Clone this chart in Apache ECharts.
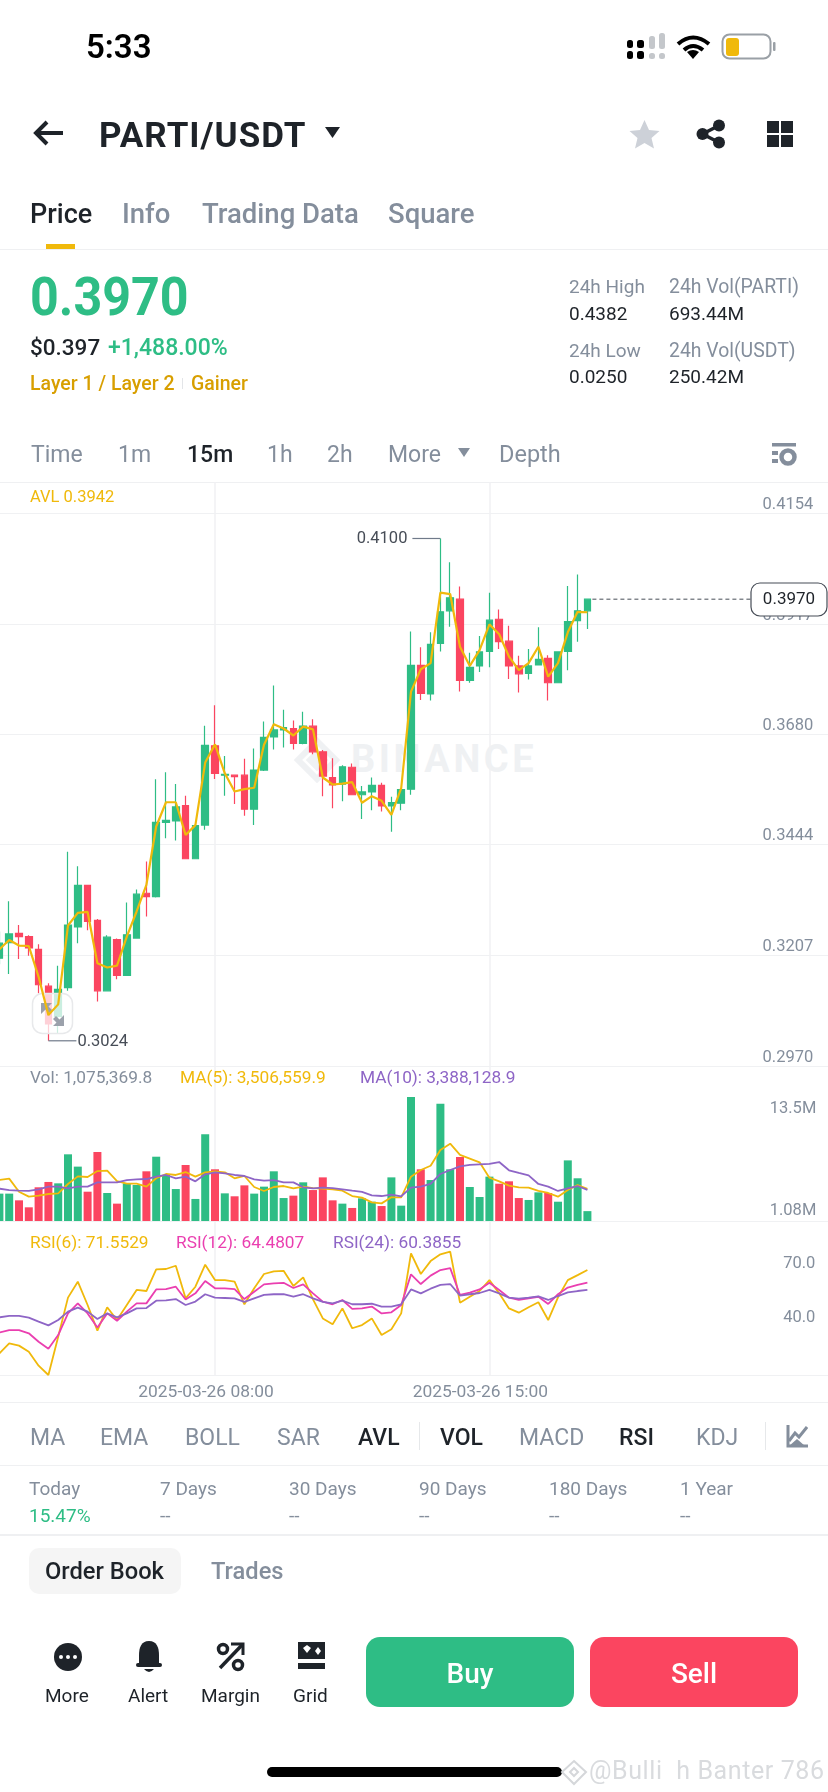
<!DOCTYPE html>
<html>
<head>
<meta charset="utf-8">
<title>PARTI/USDT</title>
<script src="https://cdn.jsdelivr.net/npm/echarts@6/dist/echarts.min.js"></script>
<style>
html, body { margin: 0; padding: 0; background: #fff; }
body { position: relative; width: 828px; height: 1792px; overflow: hidden; font-family: Roboto, sans-serif; color: #1e2329; }
#chart { position: absolute; left: 0; top: 0; width: 828px; height: 1792px; z-index: 1; }
.t { position: absolute; white-space: pre; line-height: 1; z-index: 2; }
.g { color: #848e9c; }
.b { font-weight: 500; color: #1e2329; }
.line { position: absolute; left: 0; width: 828px; height: 1px; background: #eff0f2; }
svg { position: absolute; z-index: 2; }
</style>
</head>
<body>
<!-- status bar -->
<div class="t" style="left:86px;top:30px;font-size:33px;font-weight:600;color:#000">5:33</div>
<svg style="left:625px;top:32px" width="42" height="30" fill="#000">
  <rect x="2" y="8" width="6" height="8" rx="2.5"/><rect x="2" y="19" width="6" height="8" rx="2.5"/>
  <rect x="12" y="8" width="7" height="8" rx="2.5"/><rect x="12" y="19" width="7" height="8" rx="2.5"/>
  <g fill="#c4c7cb"><rect x="24" y="4" width="6" height="13" rx="2.5"/><rect x="24" y="21" width="6" height="6" rx="2.5"/>
  <rect x="34" y="1" width="6" height="16" rx="2.5"/><rect x="34" y="21" width="6" height="6" rx="2.5"/></g>
</svg>
<svg style="left:676px;top:34px" width="36" height="27" fill="none" stroke="#000" stroke-width="4">
  <path d="M2 10 Q17 -3 33 10"/><path d="M8 16 Q17 8 27 16"/><path d="M17 25 L11 18 Q17 14 23 18 Z" fill="#000" stroke="none"/>
</svg>
<svg style="left:721px;top:33px" width="56" height="28">
  <rect x="1.5" y="1.5" width="48" height="24" rx="7" fill="#fff" stroke="#9aa0a6" stroke-width="2"/>
  <rect x="5" y="5" width="13" height="18" rx="3" fill="#f0b90b"/>
  <rect x="52" y="9" width="2.5" height="9" rx="1" fill="#9aa0a6"/>
</svg>

<!-- title row -->
<svg style="left:33px;top:120px" width="32" height="26" fill="none" stroke="#1e2329" stroke-width="4">
  <path d="M30 13 H3"/><path d="M14 2 L3 13 L14 24"/>
</svg>
<div class="t" style="left:99px;top:118px;font-size:35px;font-weight:700;letter-spacing:1px">PARTI/USDT</div>
<svg style="left:324px;top:126px" width="17" height="13" fill="#1e2329"><path d="M1 1 H16 L8.5 12 Z"/></svg>
<svg style="left:629px;top:119px" width="31" height="30" fill="#cdd1d8"><path d="M15.5 1 L20 11 L30.5 12 L22.5 19 L25 29.5 L15.5 24 L6 29.5 L8.5 19 L0.5 12 L11 11 Z"/></svg>
<svg style="left:696px;top:119px" width="30" height="30" fill="#1e2329">
  <circle cx="6.5" cy="15" r="6"/><circle cx="23" cy="6.5" r="6"/><circle cx="23" cy="23.5" r="6"/>
  <path d="M6.5 15 L23 6.5 M6.5 15 L23 23.5" stroke="#1e2329" stroke-width="3.5"/>
</svg>
<svg style="left:767px;top:121px" width="26" height="26" fill="#1e2329">
  <rect width="12" height="12"/><rect x="14" width="12" height="12"/><rect y="14" width="12" height="12"/><rect x="14" y="14" width="12" height="12"/>
</svg>

<!-- tabs -->
<div class="t" style="left:30px;top:201px;font-size:27px;font-weight:500">Price</div>
<div class="t g" style="left:122px;top:200px;font-size:27.5px;font-weight:500">Info</div>
<div class="t g" style="left:202px;top:200px;font-size:27.5px;font-weight:500">Trading Data</div>
<div class="t g" style="left:388px;top:200px;font-size:27.5px;font-weight:500">Square</div>
<div style="position:absolute;left:46px;top:244px;width:29px;height:5px;background:#f0b90b"></div>
<div class="line" style="top:249px"></div>

<!-- price block -->
<div class="t" style="left:30px;top:270px;font-size:54px;font-weight:700;color:#2ebd85;transform:scaleX(.93);transform-origin:left">0.3970</div>
<div class="t" style="left:30px;top:336px;font-size:22.5px;font-weight:500">$0.397</div>
<div class="t" style="left:108px;top:336px;font-size:23px;font-weight:500;color:#2ebd85">+1,488.00%</div>
<div class="t" style="left:30px;top:374px;font-size:19.5px;font-weight:500;color:#d89f00">Layer 1 / Layer 2</div>
<div style="position:absolute;left:182px;top:378px;width:1px;height:11px;background:#e3e5e8"></div>
<div class="t" style="left:191px;top:374px;font-size:19.5px;font-weight:500;color:#d89f00">Gainer</div>
<div class="t g" style="left:569px;top:277px;font-size:19px">24h High</div>
<div class="t g" style="left:669px;top:277px;font-size:19.4px">24h Vol(PARTI)</div>
<div class="t" style="left:569px;top:304px;font-size:19px">0.4382</div>
<div class="t" style="left:669px;top:304px;font-size:19px">693.44M</div>
<div class="t g" style="left:569px;top:341px;font-size:19px">24h Low</div>
<div class="t g" style="left:669px;top:341px;font-size:19.4px">24h Vol(USDT)</div>
<div class="t" style="left:569px;top:367px;font-size:19px">0.0250</div>
<div class="t" style="left:669px;top:367px;font-size:19px">250.42M</div>

<!-- interval row -->
<div class="t g" style="left:31px;top:443px;font-size:23px">Time</div>
<div class="t g" style="left:118px;top:443px;font-size:23px">1m</div>
<div class="t b" style="left:187px;top:443px;font-size:23px">15m</div>
<div class="t g" style="left:267px;top:443px;font-size:23px">1h</div>
<div class="t g" style="left:327px;top:443px;font-size:23px">2h</div>
<div class="t g" style="left:388px;top:443px;font-size:23px">More</div>
<svg style="left:457px;top:447px" width="14" height="11" fill="#848e9c"><path d="M1 1 H13 L7 10 Z"/></svg>
<div class="t g" style="left:499px;top:443px;font-size:23.5px">Depth</div>
<svg style="left:771px;top:442px" width="26" height="24" fill="#848e9c">
  <rect x="1" y="1" width="24" height="3.5"/><rect x="1" y="9" width="6" height="4"/><rect x="1" y="17" width="6" height="4"/>
  <circle cx="17" cy="15" r="6.5" fill="none" stroke="#848e9c" stroke-width="4.5"/>
</svg>
<div class="line" style="top:482px"></div>

<!-- indicator captions -->
<div class="t" style="left:30px;top:489px;font-size:16.5px;color:#f0b90b">AVL 0.3942</div>
<div class="t g" style="left:30px;top:1069px;font-size:17.3px">Vol: 1,075,369.8</div>
<div class="t" style="left:180px;top:1069px;font-size:17.3px;color:#f0b90b">MA(5): 3,506,559.9</div>
<div class="t" style="left:360px;top:1069px;font-size:17.3px;color:#8e65c6">MA(10): 3,388,128.9</div>
<div class="t" style="left:30px;top:1234px;font-size:17.3px;color:#f0b90b">RSI(6): 71.5529</div>
<div class="t" style="left:176px;top:1234px;font-size:17.3px;color:#ea3fb0">RSI(12): 64.4807</div>
<div class="t" style="left:333px;top:1234px;font-size:17.3px;color:#8e65c6">RSI(24): 60.3855</div>

<!-- watermark behind the candles -->
<svg style="left:292px;top:735px;z-index:0" width="50" height="50" fill="none" stroke="#eff1f3" stroke-width="6">
  <path d="M25 6 L44 25 L25 44 L6 25 Z"/><path d="M25 18 L32 25 L25 32 L18 25 Z" fill="#eff1f3"/>
</svg>
<div class="t" style="left:351px;top:740px;font-size:38px;font-weight:700;color:#eff1f3;z-index:0;letter-spacing:3.6px">BINANCE</div>

<!-- indicator switches -->
<div class="line" style="top:1402px"></div>
<div class="t g" style="left:30px;top:1426px;font-size:23px">MA</div>
<div class="t g" style="left:100px;top:1426px;font-size:23px">EMA</div>
<div class="t g" style="left:185px;top:1426px;font-size:23px">BOLL</div>
<div class="t g" style="left:277px;top:1426px;font-size:23px">SAR</div>
<div class="t b" style="left:358px;top:1426px;font-size:23px">AVL</div>
<div style="position:absolute;left:419px;top:1422px;width:1px;height:28px;background:#e6e8ea"></div>
<div class="t b" style="left:440px;top:1426px;font-size:23px">VOL</div>
<div class="t g" style="left:519px;top:1426px;font-size:23px">MACD</div>
<div class="t b" style="left:619px;top:1426px;font-size:23px">RSI</div>
<div class="t g" style="left:696px;top:1426px;font-size:23px">KDJ</div>
<div style="position:absolute;left:765px;top:1422px;width:1px;height:28px;background:#e6e8ea"></div>
<svg style="left:786px;top:1425px" width="22" height="23" fill="none" stroke="#848e9c" stroke-width="3">
  <path d="M2 0 V21 H22"/><path d="M3 16 L9 8 L13 12 L21 2"/><path d="M3 21 L11 14 L19 21 Z" fill="#848e9c" stroke="none"/>
</svg>
<div class="line" style="top:1465px"></div>

<!-- performance row -->
<div class="t g" style="left:29px;top:1479px;font-size:19px">Today</div>
<div class="t g" style="left:160px;top:1479px;font-size:19px">7 Days</div>
<div class="t g" style="left:289px;top:1479px;font-size:19px">30 Days</div>
<div class="t g" style="left:419px;top:1479px;font-size:19px">90 Days</div>
<div class="t g" style="left:549px;top:1479px;font-size:19px">180 Days</div>
<div class="t g" style="left:680px;top:1479px;font-size:19px">1 Year</div>
<div class="t" style="left:29px;top:1506px;font-size:19px;color:#2ebd85">15.47%</div>
<div class="t g" style="left:160px;top:1506px;font-size:19px">--</div>
<div class="t g" style="left:289px;top:1506px;font-size:19px">--</div>
<div class="t g" style="left:419px;top:1506px;font-size:19px">--</div>
<div class="t g" style="left:549px;top:1506px;font-size:19px">--</div>
<div class="t g" style="left:680px;top:1506px;font-size:19px">--</div>
<div class="line" style="top:1534px;height:2px"></div>

<!-- order book tabs -->
<div style="position:absolute;left:29px;top:1548px;width:152px;height:46px;border-radius:10px;background:#f5f5f5"></div>
<div class="t b" style="left:45px;top:1560px;font-size:23.7px">Order Book</div>
<div class="t g" style="left:211px;top:1560px;font-size:23.7px;font-weight:500">Trades</div>

<!-- bottom bar -->
<svg style="left:54px;top:1642px" width="28" height="30">
  <circle cx="14" cy="15" r="14" fill="#1e2329"/>
  <g fill="#fff"><circle cx="7" cy="15" r="2"/><circle cx="14" cy="15" r="2"/><circle cx="21" cy="15" r="2"/></g>
</svg>
<svg style="left:135px;top:1640px" width="28" height="34" fill="#1e2329">
  <path d="M14 1 C6 1 4 8 4 15 V24 H24 V15 C24 8 22 1 14 1 Z"/><rect x="1" y="23" width="26" height="4" rx="2"/><path d="M9 29 H19 Q14 35 9 29 Z"/>
</svg>
<svg style="left:216px;top:1642px" width="29" height="30" fill="none" stroke="#1e2329" stroke-width="3.5">
  <circle cx="7" cy="7" r="4.5"/><circle cx="22" cy="23" r="4.5"/><path d="M4 26 L26 3"/><path d="M15 2 H27 V13" stroke-width="3"/>
</svg>
<svg style="left:298px;top:1642px" width="27" height="30" fill="#1e2329">
  <path d="M0 0 H27 V17 H0 Z M5 6 L9 11 L13 6 L9 3 Z M17 9 L20 13 L23 9 L20 5 Z" fill-rule="evenodd"/><rect y="21" width="27" height="6"/>
</svg>
<div class="t" style="left:45px;top:1686px;font-size:19px">More</div>
<div class="t" style="left:128px;top:1686px;font-size:19px">Alert</div>
<div class="t" style="left:201px;top:1686px;font-size:19px">Margin</div>
<div class="t" style="left:293px;top:1686px;font-size:19px">Grid</div>
<div style="position:absolute;left:366px;top:1637px;width:208px;height:70px;border-radius:14px;background:#2ebd85"></div>
<div style="position:absolute;left:590px;top:1637px;width:208px;height:70px;border-radius:14px;background:#fb4560"></div>
<div class="t" style="left:366px;width:208px;top:1660px;font-size:28px;font-weight:500;color:#fff;text-align:center">Buy</div>
<div class="t" style="left:590px;width:208px;top:1660px;font-size:28px;font-weight:500;color:#fff;text-align:center">Sell</div>
<div style="position:absolute;left:267px;top:1767px;width:295px;height:10px;border-radius:5px;background:#000"></div>
<svg style="left:560px;top:1758px" width="28" height="28" fill="none" stroke="#d5d7da" stroke-width="2">
  <path d="M14 3 L26 14 L14 26 L2 14 Z"/><path d="M14 10 L18 14 L14 18 L10 14 Z"/>
</svg>
<div class="t" style="left:589px;top:1758px;font-size:25px;color:#d9dbde;letter-spacing:.6px">@Bulli  h Banter 786</div>

<div id="chart"></div>

<script>
const GREEN = '#2ebd85', RED = '#fb4560', YELLOW = '#f0b90b', PINK = '#ea3fb0', PURPLE = '#8e65c6';

const times = [
    '02:30','02:45','03:00','03:15','03:30','03:45','04:00','04:15','04:30','04:45',
    '05:00','05:15','05:30','05:45','06:00','06:15','06:30','06:45','07:00','07:15',
    '07:30','07:45','08:00','08:15','08:30','08:45','09:00','09:15','09:30','09:45',
    '10:00','10:15','10:30','10:45','11:00','11:15','11:30','11:45','12:00','12:15',
    '12:30','12:45','13:00','13:15','13:30','13:45','14:00','14:15','14:30','14:45',
    '15:00','15:15','15:30','15:45','16:00','16:15','16:30','16:45','17:00','17:15',
    '17:30'
];
const opens = [
    .3201,.3234,.3254,.3247,.3220,.3141,.3076,.3138,.3268,.3357,
    .3282,.3131,.3241,.3164,.3244,.3340,.3333,.3492,.3495,.3528,
    .3414,.3486,.3656,.3593,.3593,.3593,.3520,.3604,.3675,.3690,
    .3693,.3661,.3698,.3643,.3588,.3574,.3610,.3551,.3557,.3571,
    .3527,.3533,.3563,.3828,.3767,.3875,.3945,.3970,.3796,.3827,
    .3858,.3927,.3880,.3827,.3811,.3829,.3843,.3791,.3858,.3924,
    .3945
];
const closes = [
    .3233,.3253,.3247,.3223,.3144,.3060,.3134,.3272,.3357,.3280,
    .3131,.3246,.3164,.3251,.3338,.3333,.3492,.3496,.3525,.3414,
    .3485,.3657,.3597,.3595,.3590,.3520,.3604,.3674,.3690,.3695,
    .3661,.3698,.3643,.3591,.3572,.3611,.3551,.3557,.3571,.3527,
    .3534,.3562,.3828,.3768,.3873,.3943,.3973,.3796,.3824,.3857,
    .3925,.3879,.3827,.3810,.3827,.3841,.3791,.3857,.3922,.3945,
    .3970
];
const highs = [
    .3258,.3323,.3272,.3250,.3231,.3147,.3185,.3429,.3398,.3357,
    .3285,.3250,.3243,.3320,.3348,.3408,.3584,.3599,.3574,.3549,
    .3485,.3699,.3743,.3634,.3594,.3628,.3650,.3708,.3785,.3733,
    .3710,.3729,.3713,.3647,.3629,.3614,.3618,.3570,.3588,.3577,
    .3547,.3562,.3901,.3867,.3899,.4100,.4049,.3997,.3855,.3891,
    .3984,.3948,.3913,.3849,.3863,.3910,.3850,.3857,.3998,.4023,
    .3970
];
const lows = [
    .3188,.3167,.3199,.3206,.3126,.3024,.3040,.3131,.3233,.3261,
    .3108,.3131,.3156,.3164,.3244,.3290,.3331,.3458,.3453,.3414,
    .3414,.3476,.3585,.3549,.3531,.3506,.3486,.3602,.3648,.3652,
    .3648,.3659,.3638,.3548,.3522,.3537,.3551,.3499,.3518,.3515,
    .3472,.3518,.3551,.3754,.3753,.3858,.3911,.3772,.3791,.3814,
    .3824,.3863,.3799,.3770,.3798,.3828,.3753,.3791,.3818,.3879,
    .3906
];
const avl = [
    .3220,.3240,.3228,.3227,.3161,.3079,.3102,.3271,.3298,.3300,
    .3190,.3181,.3185,.3247,.3301,.3358,.3483,.3535,.3535,.3465,
    .3486,.3620,.3659,.3597,.3558,.3563,.3566,.3658,.3702,.3693,
    .3678,.3697,.3691,.3588,.3573,.3575,.3578,.3534,.3548,.3538,
    .3508,.3565,.3772,.3820,.3833,.3984,.3981,.3868,.3827,.3861,
    .3916,.3895,.3847,.3818,.3833,.3868,.3804,.3833,.3899,.3943,
    .3942
];
// volumes in millions
const volumes = [
    2.98,2.98,2.25,1.49,3.67,4.25,4.10,7.26,5.92,3.19,
    7.51,3.05,1.89,4.10,3.92,5.41,7.00,5.01,3.48,6.10,
    2.40,9.44,5.63,3.01,2.69,3.88,2.98,3.74,5.41,2.50,
    2.76,4.21,3.37,4.75,2.25,1.89,1.42,2.47,2.10,1.63,
    4.75,1.67,13.50,5.63,4.46,12.77,5.63,6.97,3.70,2.61,
    4.83,4.06,4.32,2.50,2.29,3.12,3.05,2.10,6.60,4.65,
    1.075
];
const ma5 = [
    4.46,4.61,3.19,2.65,2.76,2.94,3.01,4.03,4.86,4.79,
    5.44,5.48,4.35,4.06,4.06,3.74,4.65,5.12,5.01,5.33,
    4.83,5.30,5.41,5.30,4.65,4.90,3.70,3.27,3.70,3.81,
    3.56,3.74,3.59,3.52,3.45,3.30,2.72,2.54,2.03,1.92,
    2.58,2.58,4.83,5.55,6.02,7.73,8.42,7.19,6.79,6.39,
    4.72,4.32,3.85,3.67,3.63,3.27,3.05,2.65,3.37,3.92,
    3.507
];
const ma10 = [
    3.52,3.37,3.30,3.27,3.45,3.74,3.74,3.56,3.74,3.74,
    4.21,4.21,4.21,4.46,4.54,4.57,4.83,5.01,4.65,4.83,
    4.32,5.08,5.30,5.19,5.01,4.90,4.54,4.39,4.46,4.21,
    4.21,3.67,3.56,3.63,3.59,3.45,3.30,3.16,2.79,2.72,
    2.87,2.69,3.63,3.74,4.03,5.12,5.55,5.95,6.10,6.17,
    6.21,6.42,5.52,5.23,4.97,4.03,3.74,3.27,3.56,3.81,
    3.388
];
const rsi6 = [
    25.0,30.6,29.3,25.9,18.1,12.9,34.3,56.1,65.0,52.0,
    37.7,50.7,43.6,52.0,60.4,59.8,71.9,72.1,73.9,55.7,
    62.2,74.5,65.9,65.9,65.0,52.4,61.3,69.3,70.8,71.1,
    62.6,67.4,55.1,44.5,41.2,50.1,39.0,40.8,44.5,35.2,
    38.4,47.3,80.8,69.3,76.5,80.3,81.8,53.3,56.6,59.8,
    65.9,58.5,50.1,47.7,50.7,53.5,43.6,56.3,65.9,68.7,
    71.55
];
const rsi12 = [
    36.6,38.0,38.0,36.2,31.5,27.6,35.2,47.3,52.9,47.3,
    39.4,47.3,43.2,48.3,52.9,52.9,60.7,60.9,62.2,55.1,
    58.5,65.4,61.3,61.3,60.9,55.3,59.4,63.5,64.1,64.4,
    61.5,63.5,58.5,53.9,52.4,54.8,49.8,50.1,51.1,47.3,
    47.9,52.0,69.1,63.7,68.4,71.5,72.6,57.6,58.9,60.7,
    64.4,60.4,56.1,54.8,55.7,56.6,52.6,58.0,61.7,63.2,
    64.48
];
const rsi24 = [
    45.1,45.9,45.9,44.9,42.7,40.6,43.6,48.3,50.5,48.3,
    44.2,47.3,45.1,47.3,50.1,50.3,54.4,54.6,55.3,52.0,
    53.9,58.0,56.1,55.9,55.7,53.7,55.7,57.6,58.0,58.0,
    56.6,58.0,55.7,53.7,52.9,54.4,52.4,52.4,52.7,51.1,
    51.1,52.4,60.7,58.5,61.1,63.2,63.7,57.2,58.0,58.7,
    60.4,58.5,56.1,55.5,56.1,56.8,54.8,57.0,59.0,59.8,
    60.39
];
const priceTicks = [.2970, .3207, .3444, .3680, .3917, .4154];
const volTicks = [1.08, 13.5];
const rsiTicks = [40, 70];
const dateTicks = [22, 50];
const lastPrice = .3970, highMark = [45, .4100], lowMark = [5, .3024];

// room to the right of the last candle
const categories = times.map(t => '2025-03-26 ' + t).concat(new Array(25).fill(''));
const candles = opens.map((o, i) => [o, closes[i], lows[i], highs[i]]);
const isDateTick = i => dateTicks.includes(i);

const LINE = '#f0f1f3', AXIS_TEXT = '#848e9c', FONT = 'Roboto';
// first candle hangs half off the left edge, so the grid starts before x=0
const gridBase = { left: -5.5, width: 842.8, outerBoundsMode: 'none' };

function xAxis(gridIndex, showLabel) {
    return {
        type: 'category', gridIndex, data: categories,
        axisTick: { show: false },
        axisLine: { show: true, lineStyle: { color: LINE } },
        axisLabel: {
            show: showLabel, interval: i => isDateTick(i), formatter: v => v,
            color: AXIS_TEXT, fontFamily: FONT, fontSize: 17.4, margin: 9, padding: [0, 18, 0, 0]
        },
        splitLine: { show: true, alignWithLabel: true, interval: i => isDateTick(i), lineStyle: { color: LINE, width: 1.5 } }
    };
}

function lineSeries(name, data, color, xIdx, width) {
    return {
        name, type: 'line', data, xAxisIndex: xIdx, yAxisIndex: xIdx, showSymbol: false, symbol: 'none',
        lineStyle: { color, width: width || 1.8 }, z: 5, silent: true
    };
}

const chart = echarts.init(document.getElementById('chart'), null, { renderer: 'canvas' });
chart.setOption({
    animation: false,
    backgroundColor: 'transparent',
    grid: [
        Object.assign({ top: 482, height: 584 }, gridBase),
        Object.assign({ top: 1066, height: 155 }, gridBase),
        Object.assign({ top: 1221, height: 154 }, gridBase)
    ],
    xAxis: [xAxis(0, false), xAxis(1, false), xAxis(2, true)],
    yAxis: [
        {
            type: 'value', gridIndex: 0, position: 'right', min: .2970, max: .4221, scale: true,
            axisLine: { show: false },
            axisTick: { show: false, customValues: priceTicks },
            axisLabel: {
                customValues: priceTicks, inside: true, margin: 24, verticalAlign: 'bottom',
                color: AXIS_TEXT, fontFamily: FONT, fontSize: 16.5, formatter: v => v.toFixed(4)
            },
            splitLine: { show: true, lineStyle: { color: LINE } }
        },
        {
            type: 'value', gridIndex: 1, position: 'right', min: 0, max: 16.875,
            axisLine: { show: false },
            axisTick: { show: false, customValues: volTicks },
            axisLabel: {
                customValues: volTicks, inside: true, margin: 21,
                color: AXIS_TEXT, fontFamily: FONT, fontSize: 16.5,
                formatter: v => v > 10 ? '{top|' + v.toFixed(1) + 'M}' : v.toFixed(2) + 'M',
                rich: { top: { padding: [24, 0, 0, 0], color: AXIS_TEXT, fontFamily: FONT, fontSize: 16.5 } }
            },
            splitLine: { show: false }
        },
        {
            type: 'value', gridIndex: 2, position: 'right', min: 12.9, max: 98.9,
            axisLine: { show: false },
            axisTick: { show: false, customValues: rsiTicks },
            axisLabel: {
                customValues: rsiTicks, inside: true, margin: 22, verticalAlign: 'bottom',
                color: AXIS_TEXT, fontFamily: FONT, fontSize: 16.5, formatter: v => v.toFixed(1)
            },
            splitLine: { show: false }
        }
    ],
    series: [
        {
            type: 'candlestick', data: candles, xAxisIndex: 0, yAxisIndex: 0, barWidth: 7, z: 2,
            itemStyle: { color: GREEN, color0: RED, borderColor: GREEN, borderColor0: RED, borderWidth: 1.2 }
        },
        lineSeries('AVL', avl, YELLOW, 0, 2.2),
        {
            type: 'bar', data: volumes, xAxisIndex: 1, yAxisIndex: 1, barWidth: 8, z: 2,
            itemStyle: { color: p => closes[p.dataIndex] >= opens[p.dataIndex] ? GREEN : RED }
        },
        lineSeries('MA5', ma5, YELLOW, 1),
        lineSeries('MA10', ma10, PURPLE, 1),
        lineSeries('RSI6', rsi6, YELLOW, 2),
        lineSeries('RSI12', rsi12, PINK, 2),
        lineSeries('RSI24', rsi24, PURPLE, 2)
    ]
});

// price callouts and the full screen button
const toPx = p => chart.convertToPixel({ xAxisIndex: 0, yAxisIndex: 0 }, p);
const hi = toPx(highMark), lo = toPx(lowMark), last = toPx([60, lastPrice]);
const leader = { stroke: '#707a8a', lineWidth: 1.2 };
const markText = { fill: '#474d57', fontFamily: FONT, fontSize: 16.5, verticalAlign: 'middle' };
chart.setOption({
    graphic: [
        { type: 'line', z: 6, shape: { x1: hi[0] - 28, y1: hi[1], x2: hi[0], y2: hi[1] }, style: leader },
        { type: 'text', z: 6, x: hi[0] - 33, y: hi[1], style: Object.assign({ text: highMark[1].toFixed(4), align: 'right' }, markText) },
        { type: 'line', z: 6, shape: { x1: lo[0], y1: lo[1], x2: lo[0] + 28, y2: lo[1] }, style: leader },
        { type: 'text', z: 6, x: lo[0] + 29, y: lo[1] + 1, style: Object.assign({ text: lowMark[1].toFixed(4), align: 'left' }, markText) },
        { type: 'line', z: 6, shape: { x1: last[0] + 5, y1: last[1], x2: 751, y2: last[1] }, style: { stroke: '#474d57', lineWidth: 1, lineDash: [4, 3] } },
        { type: 'rect', z: 7, shape: { x: 751, y: 583, width: 76, height: 33, r: 9 }, style: { fill: '#fff', stroke: '#474d57', lineWidth: 1.2 } },
        { type: 'text', z: 8, x: 789, y: 600, style: { text: lastPrice.toFixed(4), align: 'center', verticalAlign: 'middle', fill: '#1e2329', fontFamily: FONT, fontSize: 17 } },
        { type: 'rect', z: 3, shape: { x: 32.5, y: 993.5, width: 40, height: 40, r: 10 }, style: { fill: 'rgba(255,255,255,0.75)', stroke: '#e8e9eb', lineWidth: 1.5 } },
        { type: 'polygon', z: 4, shape: { points: [[41, 1003], [52, 1003], [48.5, 1006.5], [52, 1010], [49, 1013], [45.5, 1009.5], [41, 1014]] }, style: { fill: '#9ba1ab' } },
        { type: 'polygon', z: 4, shape: { points: [[64, 1026], [53, 1026], [56.5, 1022.5], [53, 1019], [56, 1016], [59.5, 1019.5], [64, 1015]] }, style: { fill: '#9ba1ab' } }
    ]
});
</script>
</body>
</html>
